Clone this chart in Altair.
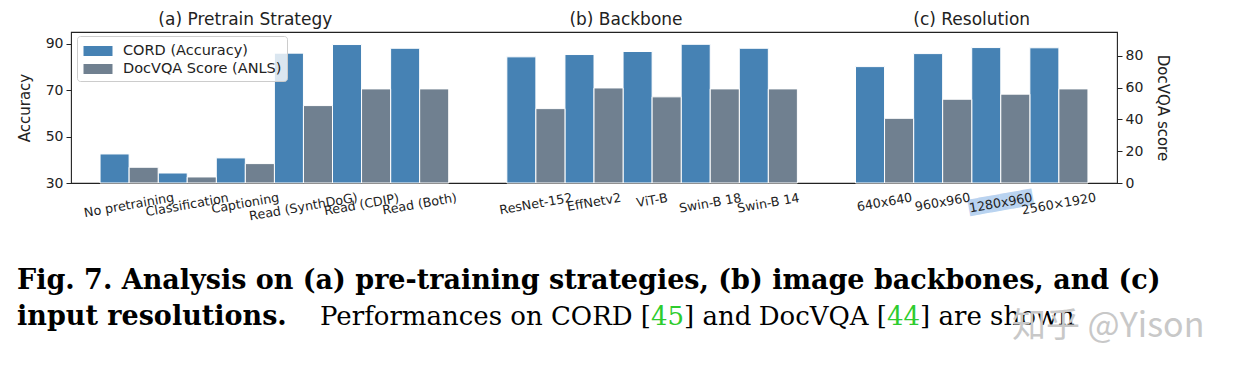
import math
import altair as alt
import pandas as pd

# ---------------- data ----------------
group_titles = ["(a) Pretrain Strategy", "(b) Backbone", "(c) Resolution"]
cats_a = ["No pretraining", "Classification", "Captioning", "Read (SynthDoG)", "Read (CDIP)", "Read (Both)"]
cats_b = ["ResNet-152", "EffNetv2", "ViT-B", "Swin-B 18", "Swin-B 14"]
cats_c = ["640x640", "960x960", "1280x960", "2560\u00d71920"]

cord_a = [42.5, 34.3, 40.8, 85.9, 89.6, 88.0]
docvqa_a = [9.9, 3.8, 12.2, 48.7, 59.2, 59.2]
cord_b = [84.3, 85.3, 86.6, 89.7, 88.0]
docvqa_b = [46.8, 59.8, 54.2, 59.2, 59.2]
cord_c = [80.1, 85.7, 88.3, 88.2]
docvqa_c = [40.7, 52.7, 55.9, 59.2]

series_names = ["CORD (Accuracy)", "DocVQA Score (ANLS)"]
highlighted_label = "1280x960"

# ---------------- layout / style ----------------
W, H = 1046, 151
BLUE = "#4682b4"
GRAY = "#708090"
INK = "#222222"
GREEN = "#2ecc2e"
ANGLE_DEG = 10

groups = [(cats_a, cord_a, docvqa_a), (cats_b, cord_b, docvqa_b), (cats_c, cord_c, docvqa_c)]
rows = []
pos = 0
for gi, (cats, cord, doc) in enumerate(groups):
    if gi > 0:
        pos += 1  # gap between panels
    for c, v1, v2 in zip(cats, cord, doc):
        rows.append({"cat": c, "pos": pos, "cord": v1, "doc": v2})
        pos += 1
x_max = pos  # last position + 1
df = pd.DataFrame(rows)


def est_width(s, fs):
    w = 0.0
    for ch in s:
        if ch in "il.,'|":
            w += 0.28
        elif ch in " ()-[]tfrj":
            w += 0.38
        elif ch.isupper():
            w += 0.72
        elif ch.isdigit():
            w += 0.636
        elif ch in "mw":
            w += 0.93
        elif ch == "\u00d7":
            w += 0.84
        else:
            w += 0.61
    return w * fs


LABEL_FS = 12.7
df["ly"] = [H + 14.5 + 0.5 * est_width(c, LABEL_FS) * math.sin(math.radians(ANGLE_DEG)) for c in df["cat"]]

blue_df = df.assign(series=series_names[0], x0=df["pos"] - 0.5, x1=df["pos"])
gray_df = df.assign(series=series_names[1], x0=df["pos"], x1=df["pos"] + 0.5)

xscale = alt.Scale(domain=[-1, x_max], nice=False, zero=False)
color_scale = alt.Scale(domain=series_names, range=[BLUE, GRAY])
legend = alt.Legend(
    title=None, orient="none", legendX=6, legendY=4, direction="vertical",
    fillColor="rgba(255,255,255,0.8)", strokeColor="#cccccc", cornerRadius=3,
    padding=5, symbolType="M-1.45,-0.5H1.45V0.5H-1.45Z", symbolSize=400,
    symbolStrokeWidth=0, symbolOffset=6, labelOffset=15, labelFontSize=14.5,
    labelFont="DejaVu Sans", labelColor=INK, rowPadding=1, symbolOpacity=1,
)

blue = alt.Chart(blue_df).mark_bar(stroke="white", strokeWidth=1).encode(
    x=alt.X("x0:Q", scale=xscale, axis=None),
    x2="x1:Q",
    y=alt.Y("cord:Q", scale=alt.Scale(domain=[30, 95], nice=False, zero=False),
            axis=alt.Axis(values=[30, 50, 70, 90], title="Accuracy", grid=False, domain=False,
                          tickSize=5, tickColor=INK, labelFontSize=14, labelColor=INK,
                          labelFont="DejaVu Sans", titleFont="DejaVu Sans", titleFontSize=15,
                          titleFontWeight="normal", titleColor=INK, titlePadding=13, labelPadding=3)),
    y2=alt.datum(30),
    color=alt.Color("series:N", scale=color_scale, legend=legend),
)

gray = alt.Chart(gray_df).mark_bar(stroke="white", strokeWidth=1).encode(
    x=alt.X("x0:Q", scale=xscale, axis=None),
    x2="x1:Q",
    y=alt.Y("doc:Q", scale=alt.Scale(domain=[0, 95], nice=False, zero=False),
            axis=alt.Axis(orient="right", values=[0, 20, 40, 60, 80], title="DocVQA score", grid=False,
                          domain=False, tickSize=5, tickColor=INK, labelFontSize=14, labelColor=INK,
                          labelFont="DejaVu Sans", titleFont="DejaVu Sans", titleFontSize=15,
                          titleFontWeight="normal", titleColor=INK, titlePadding=12, labelPadding=3)),
    y2=alt.datum(0),
    color=alt.Color("series:N", scale=color_scale, legend=legend),
)

hl = alt.Chart(df[df["cat"] == highlighted_label]).mark_text(
    text="\u2588" * 6, angle=360 - ANGLE_DEG, align="center", baseline="middle",
    fontSize=14, font="DejaVu Sans", color="#b9d3f0",
).encode(
    x=alt.X("pos:Q", scale=xscale, axis=None),
    y=alt.Y("ly:Q", scale=None, axis=None),
)

labels = alt.Chart(df).mark_text(
    angle=360 - ANGLE_DEG, align="center", baseline="middle",
    fontSize=LABEL_FS, font="DejaVu Sans", color=INK,
).encode(
    x=alt.X("pos:Q", scale=xscale, axis=None),
    y=alt.Y("ly:Q", scale=None, axis=None),
    text="cat:N",
)

title_df = pd.DataFrame({"title": group_titles, "tx": [2.0, 8.55, 14.5]})
titles = alt.Chart(title_df).mark_text(
    align="center", baseline="middle", fontSize=17, font="DejaVu Sans", color=INK,
).encode(
    x=alt.X("tx:Q", scale=xscale, axis=None),
    y=alt.value(-12.5),
    text="title:N",
)

one = pd.DataFrame({"k": [0]})


def cap(text, x, y, fs, weight="normal", color="#000000", align="left", font="DejaVu Serif"):
    return alt.Chart(one).mark_text(
        text=text, align=align, baseline="alphabetic", fontSize=fs, fontWeight=weight,
        font=font, color=color,
    ).encode(x=alt.value(x), y=alt.value(y))


FN = 26          # caption normal font size
DIGITS = 1.272 * FN  # width of two DejaVu digits
L1, L2 = 257, 293
B1, B2 = 580, 816
cap_layers = [
    cap("Fig. 7. Analysis on (a) pre-training strategies, (b) image backbones, and (c)", -54, L1, 27, "bold"),
    cap("input resolutions.", -54, L2, 27, "bold"),
    cap("Performances on CORD [", B1, L2, FN, align="right"),
    cap("45", B1, L2, FN, color=GREEN),
    cap("] and", B1 + DIGITS, L2, FN),
    cap("DocVQA [", B2, L2, FN, align="right"),
    cap("44", B2, L2, FN, color=GREEN),
    cap("] are shown", B2 + DIGITS, L2, FN),
    cap("\u77e5\u4e4e @Yison", 941, 305, 34, color="#c8c8c8", font="Noto Sans CJK SC"),
]

chart = alt.layer(blue, gray, hl, labels, titles, *cap_layers).resolve_scale(
    y="independent"
).properties(
    width=W, height=H,
    padding={"left": 63, "top": 24, "right": 115, "bottom": 200},
    autosize=alt.AutoSizeParams(type="none"),
    background="white",
).configure_view(stroke=INK, strokeWidth=1.1)

chart.save("out.html", embed_options={"renderer": "svg", "actions": False})
